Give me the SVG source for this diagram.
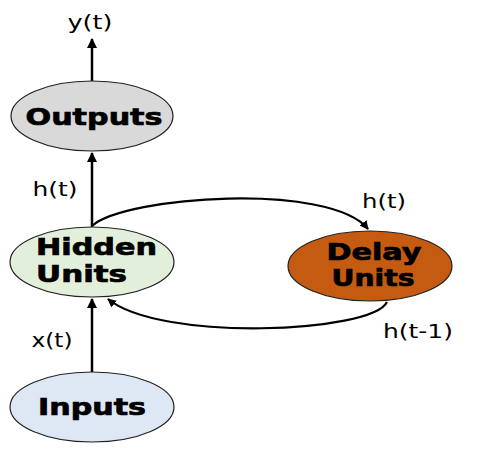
<svg xmlns="http://www.w3.org/2000/svg" width="480" height="451" viewBox="0 0 480 451">
<style>
.node{stroke:#222;stroke-width:1.2}
.nt{font-family:"DejaVu Sans",sans-serif;font-weight:bold;font-size:23px;fill:#000;stroke:#000;stroke-width:0.7}
.lb{font-family:"DejaVu Sans",sans-serif;font-size:20px;fill:#000}
.c{fill:none;stroke:#000;stroke-width:2.5}
.cc{fill:none;stroke:#000;stroke-width:2.2}
</style>
<defs>
<marker id="ah" viewBox="0 0 10 10" refX="9" refY="5" markerWidth="4" markerHeight="4" orient="auto" markerUnits="strokeWidth">
<path d="M0,0 L10,5 L0,10 z" fill="#000"/>
</marker>
</defs>
<rect width="480" height="451" fill="#fff"/>
<g id="connectors">
<line class="c" x1="92" y1="82" x2="92" y2="39" marker-end="url(#ah)"/>
<line class="c" x1="92" y1="227" x2="92" y2="153" marker-end="url(#ah)"/>
<line class="c" x1="92" y1="372" x2="92" y2="299" marker-end="url(#ah)"/>
<path class="cc" d="M92,226 C125,196 330,182 368,229" marker-end="url(#ah)"/>
<path class="cc" d="M387,302 C372,333 160,342 108,299" marker-end="url(#ah)"/>
</g>
<g id="labels">
<text class="lb" x="90" y="29" text-anchor="middle" textLength="45" lengthAdjust="spacingAndGlyphs">y(t)</text>
<text class="lb" x="55" y="196" text-anchor="middle" textLength="45" lengthAdjust="spacingAndGlyphs">h(t)</text>
<text class="lb" x="384" y="208" text-anchor="middle" textLength="44" lengthAdjust="spacingAndGlyphs">h(t)</text>
<text class="lb" x="418" y="338" text-anchor="middle" textLength="70" lengthAdjust="spacingAndGlyphs">h(t-1)</text>
<text class="lb" x="52" y="347" text-anchor="middle" textLength="41" lengthAdjust="spacingAndGlyphs">x(t)</text>
</g>
<g id="outputs">
<ellipse class="node" cx="92" cy="116" rx="81" ry="35" fill="#d9d9d9"/>
<text class="nt" x="94" y="125" text-anchor="middle" textLength="137" lengthAdjust="spacingAndGlyphs">Outputs</text>
</g>
<g id="hidden">
<ellipse class="node" cx="92" cy="262" rx="82" ry="35" fill="#e2efda"/>
<text class="nt" x="36" y="255" textLength="121" lengthAdjust="spacingAndGlyphs">Hidden</text>
<text class="nt" x="36" y="282" textLength="91" lengthAdjust="spacingAndGlyphs">Units</text>
</g>
<g id="delay">
<ellipse class="node" cx="370" cy="266" rx="82" ry="35" fill="#c55a11"/>
<text class="nt" x="374" y="260" text-anchor="middle" textLength="95" lengthAdjust="spacingAndGlyphs">Delay</text>
<text class="nt" x="373" y="286" text-anchor="middle" textLength="83" lengthAdjust="spacingAndGlyphs">Units</text>
</g>
<g id="inputs">
<ellipse class="node" cx="92" cy="407" rx="82" ry="35" fill="#dde8f4"/>
<text class="nt" x="92" y="415" text-anchor="middle" textLength="108" lengthAdjust="spacingAndGlyphs">Inputs</text>
</g>
</svg>
